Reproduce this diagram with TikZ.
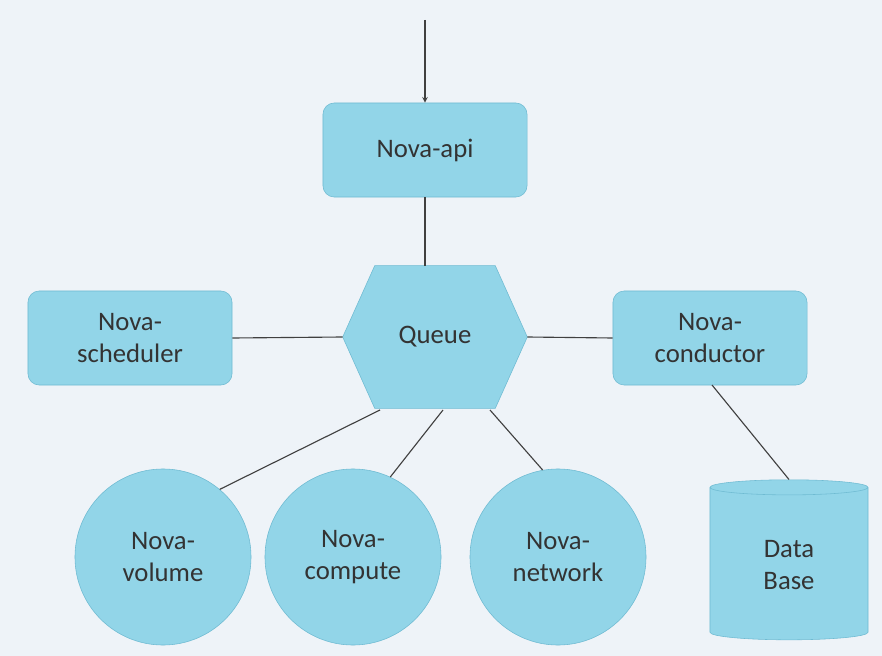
\documentclass[tikz,border=0pt]{standalone}
\usepackage{fontspec}
\setmainfont{Carlito}
\usetikzlibrary{shapes.geometric}
\definecolor{boxfill}{HTML}{92D5E8}
\definecolor{boxline}{HTML}{6FBBD2}
\definecolor{bgcol}{HTML}{EEF3F8}
\begin{document}
\begin{tikzpicture}[x=0.025cm,y=-0.025cm,
  every node/.style={font=\fontsize{19}{23}\selectfont, align=center, text=black!80},
  box/.style={draw=boxline, fill=boxfill, rounded corners=8pt, minimum width=5.1cm, minimum height=2.35cm},
  disk/.style={draw=boxline, fill=boxfill, circle, minimum size=4.4cm},
  link/.style={draw=black!75, line width=0.8pt}]
\fill [bgcol] (0,0) rectangle (882,656);
\useasboundingbox (0,0) rectangle (882,656);
% top row
\coordinate (entry) at (425,20);
\node [box] (api) at (425,150) {Nova-api};
% queue hexagon
\node [minimum width=4.6cm, minimum height=3.55cm] (queue) at (435,337) {Queue};
\filldraw [draw=boxline, fill=boxfill] (queue.west) -- ([xshift=0.8cm]queue.north west) -- ([xshift=-0.8cm]queue.north east)
  -- (queue.east) -- ([xshift=-0.8cm]queue.south east) -- ([xshift=0.8cm]queue.south west) -- cycle;
\node at (queue) {Queue};
\node [box, minimum width=5.1cm] (sched) at (130,338) {Nova-\\scheduler};
\node [box, minimum width=4.85cm] (cond) at (710,338) {Nova-\\conductor};
% bottom row
\node [disk] (vol) at (163,557) {Nova-\\volume};
\node [disk] (comp) at (353,557) {Nova-\\compute};
\node [disk] (net) at (558,557) {Nova-\\network};
\node [cylinder, shape border rotate=90, aspect=0.25, draw=boxline, fill=boxfill,
  minimum width=3.95cm, minimum height=4cm] (db) at (789,565) {Data\\Base};
% connectors
\draw [link, -stealth] (entry) -- (api.north);
\draw [link] (api.south) -- (425,266);
\draw [link] (sched.east) -- (queue.west);
\draw [link] (queue.east) -- (cond.west);
\draw [link] (380,410) -- (vol.50);
\draw [link] (443,410) -- (comp.65);
\draw [link] (490,410) -- (net.100);
\draw [link] (712,385) -- (db.north);
\end{tikzpicture}
\end{document}
